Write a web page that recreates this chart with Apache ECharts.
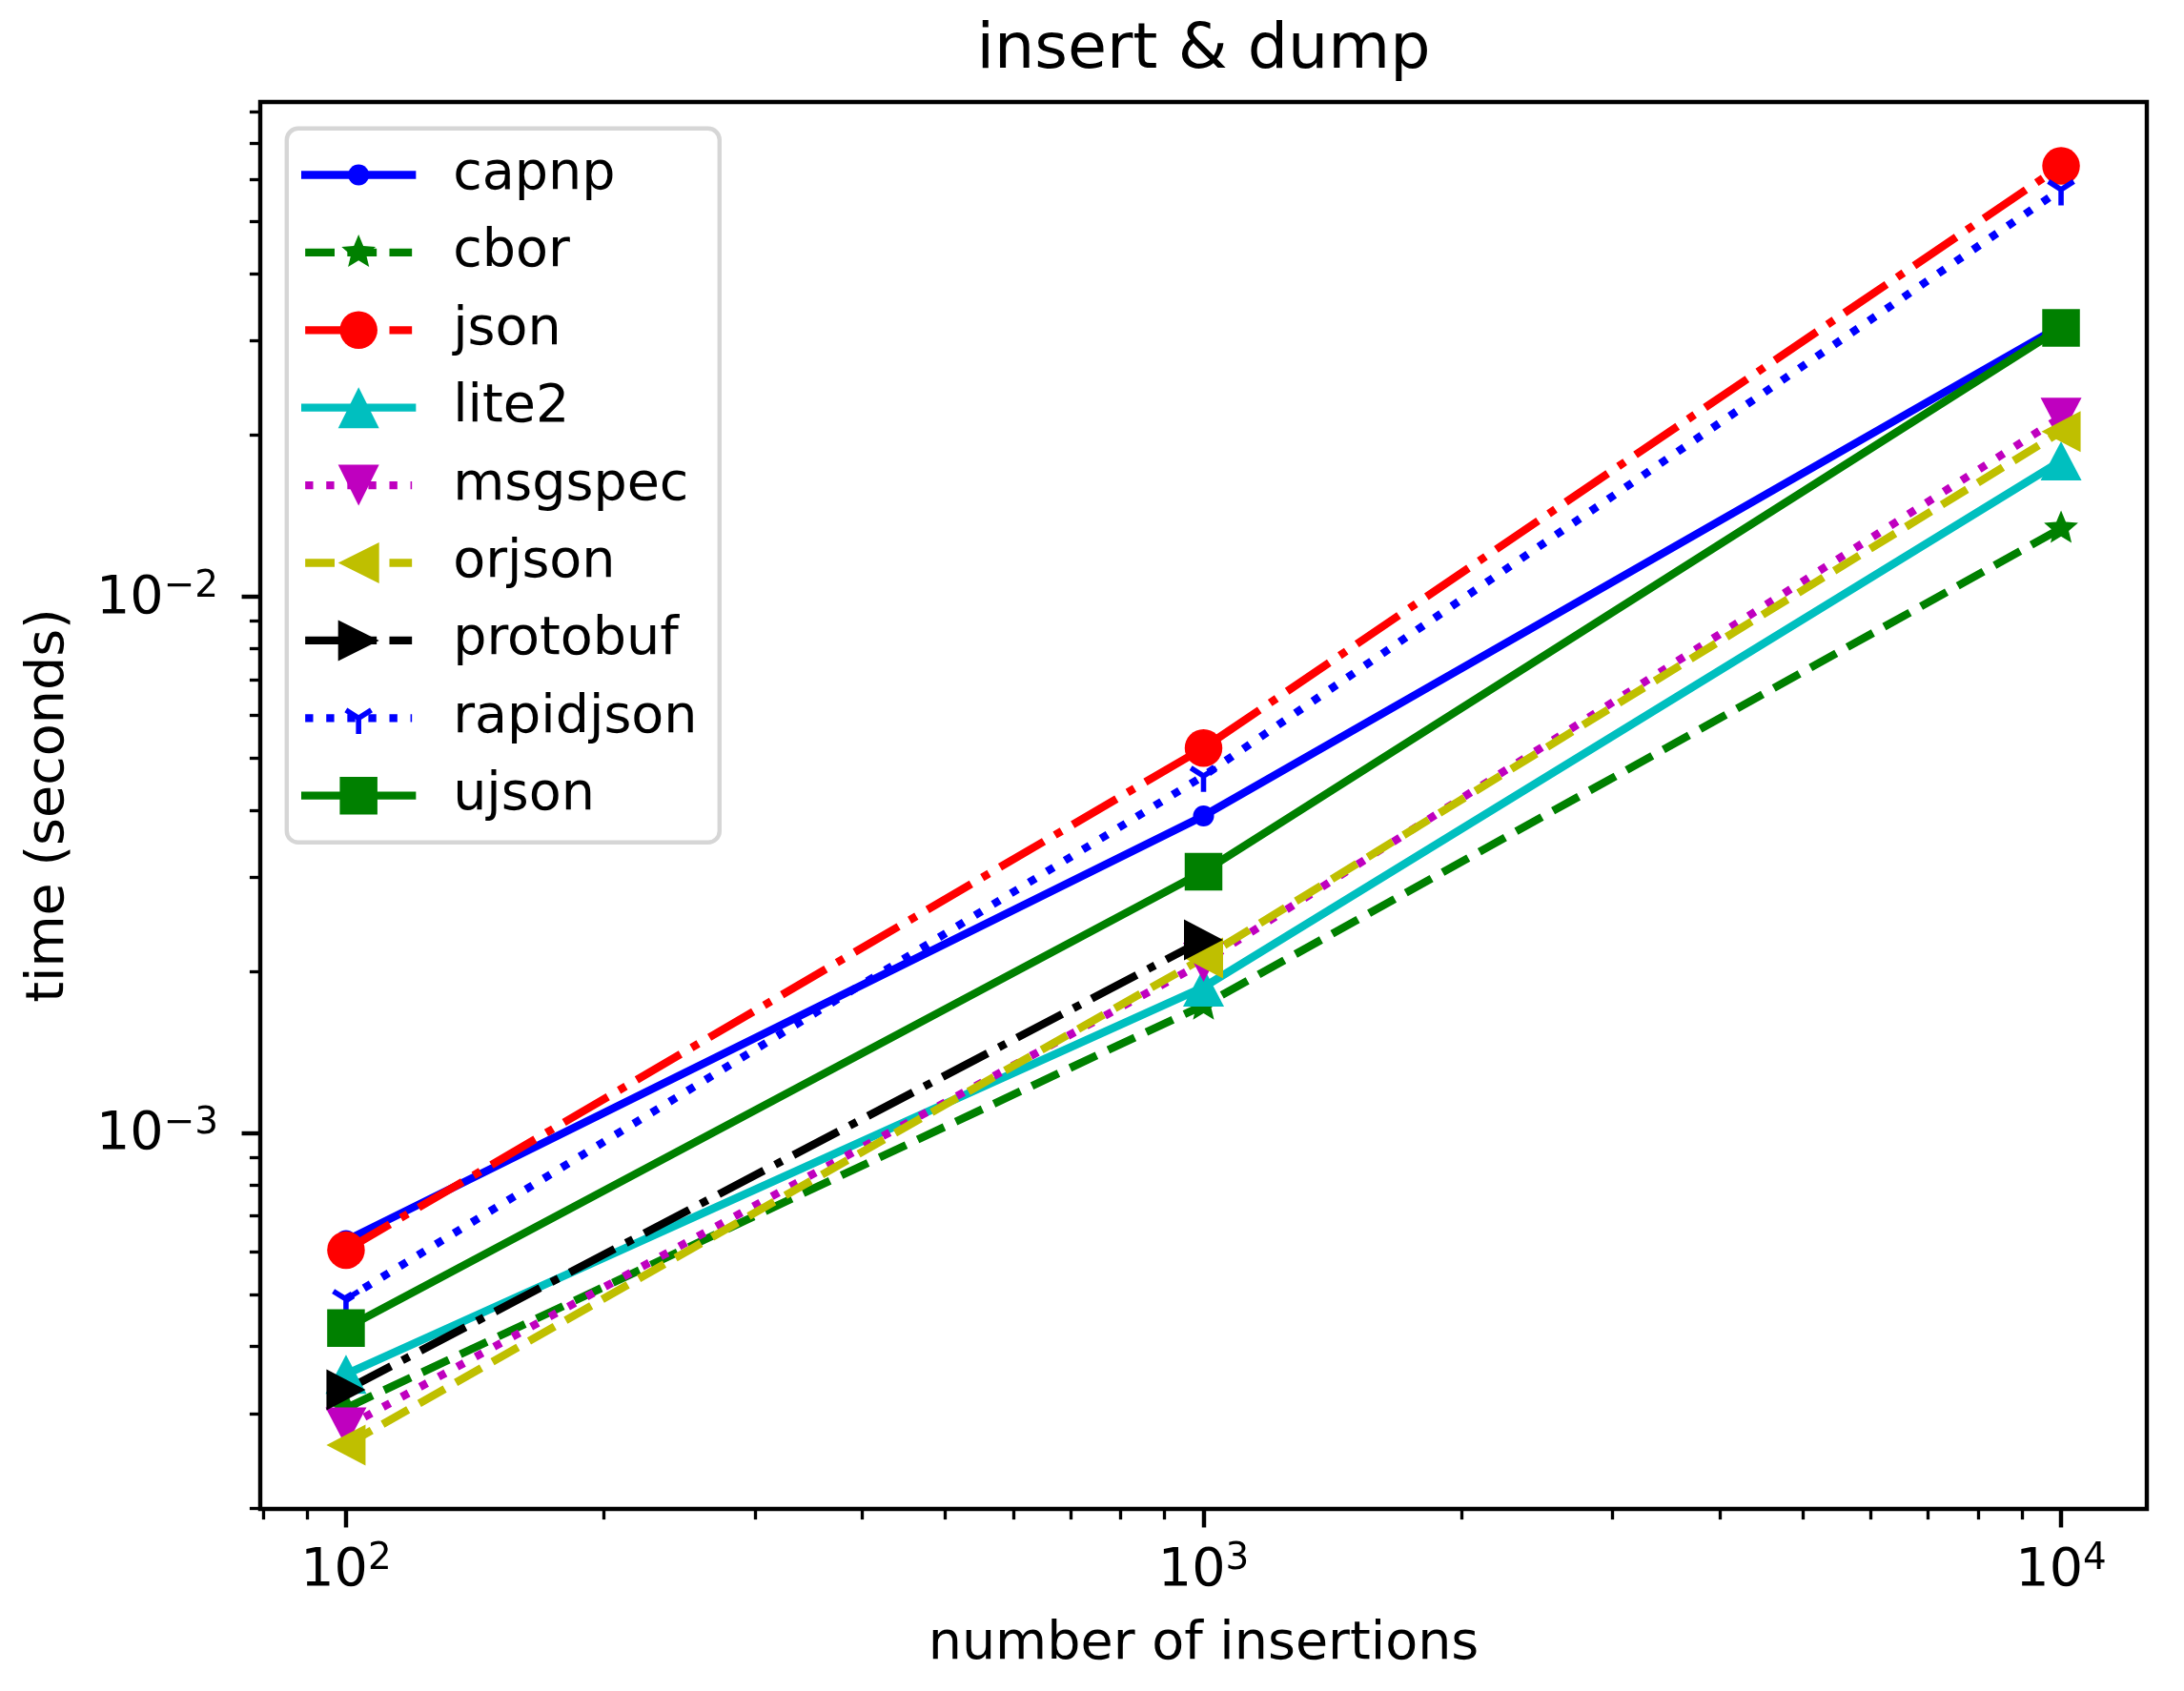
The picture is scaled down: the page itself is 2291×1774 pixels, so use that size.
<!DOCTYPE html>
<html><head><meta charset="utf-8">
<script src="https://cdn.jsdelivr.net/npm/echarts@6/dist/echarts.min.js"></script>
<style>html,body{margin:0;padding:0;background:#fff}#c{width:2291px;height:1774px}</style>
</head><body><div id="c"></div>
<script>
// ---- data (seconds) ----
const insertions = [100, 1000, 10000];
const capnp     = [6.30e-4, 3.90e-3, 3.20e-2];
const cbor      = [3.07e-4, 1.73e-3, 1.34e-2];
const json      = [6.05e-4, 5.22e-3, 6.35e-2];
const lite2     = [3.55e-4, 1.87e-3, 1.79e-2];
const msgspec   = [2.83e-4, 2.08e-3, 2.16e-2];
const orjson    = [2.62e-4, 2.12e-3, 2.03e-2];
const protobuf  = [3.32e-4, 2.29e-3, null];
const rapidjson = [4.90e-4, 4.63e-3, 5.74e-2];
const ujson     = [4.33e-4, 3.07e-3, 3.17e-2];

const xMajorTicks = [100, 1000, 10000];
const xMinorTicks = [80, 90, 200, 300, 400, 500, 600, 700, 800, 900, 2000, 3000, 4000, 5000, 6000, 7000, 8000, 9000];
const yMajorTicks = [0.001, 0.01];
const yMinorTicks = [0.0002, 0.0003, 0.0004, 0.0005, 0.0006, 0.0007, 0.0008, 0.0009,
  0.002, 0.003, 0.004, 0.005, 0.006, 0.007, 0.008, 0.009, 0.02, 0.03, 0.04, 0.05, 0.06, 0.07, 0.08];

const titleText = 'insert & dump';
const xName = 'number of insertions';
const yName = 'time (seconds)';

// ---- styling ----
const F = 'DejaVu Sans';
const PT = 400 / 72;
const LW = 1.5 * PT;
const DASHED = [3.7 * LW, 1.6 * LW];
const DASHDOT = [6.4 * LW, 1.6 * LW, 1.0 * LW, 1.6 * LW];
const DOTTED = [1.0 * LW, 1.65 * LW];

const STAR = 'path://M0 -1L-0.2645 -0.364L-0.9511 -0.309L-0.428 0.139L-0.5878 0.809L0 0.45L0.5878 0.809L0.428 0.139L0.9511 -0.309L0.2645 -0.364ZM-1 -1M1 1';
const TRIDOWN = 'path://M0 0L0 1M0 0L0.8 -0.5M0 0L-0.8 -0.5M-1 -1M1 1';

const allSeries = [
  {name:'capnp', ys:capnp, color:'#0000ff', dash:'solid', symbol:'circle', size:22, rot:0},
  {name:'cbor', ys:cbor, color:'#008000', dash:DASHED, symbol:STAR, size:37.6, rot:0},
  {name:'json', ys:json, color:'#ff0000', dash:DASHDOT, symbol:'circle', size:39.5, rot:0},
  {name:'lite2', ys:lite2, color:'#00bfbf', dash:'solid', symbol:'triangle', size:[43,41], rot:0},
  {name:'msgspec', ys:msgspec, color:'#bf00bf', dash:DOTTED, symbol:'triangle', size:[43,41], rot:180},
  {name:'orjson', ys:orjson, color:'#bfbf00', dash:DASHED, symbol:'triangle', size:[43,41], rot:90},
  {name:'protobuf', ys:protobuf, color:'#000000', dash:DASHDOT, symbol:'triangle', size:[43,41], rot:-90},
  {name:'rapidjson', ys:rapidjson, color:'#0000ff', dash:DOTTED, symbol:TRIDOWN, size:33.3, rot:0, stroke:1.0*PT},
  {name:'ujson', ys:ujson, color:'#008000', dash:'solid', symbol:'rect', size:39.5, rot:0}
];

// axis ranges: 5% margins in log space (matplotlib style)
function logRange(vals) {
  const v = vals.filter(d => d != null && d > 0);
  const a = Math.log10(Math.min(...v)), b = Math.log10(Math.max(...v));
  const m = (b - a) * 0.05;
  return [Math.pow(10, a - m), Math.pow(10, b + m)];
}
const [xMin, xMax] = logRange(insertions);
const [yMin, yMax] = logRange([].concat(...allSeries.map(s => s.ys)));

const GRID = {left: 273, right: 39, top: 107, bottom: 191};

function powLabel(v) {
  const e = Math.round(Math.log10(v));
  const es = e < 0 ? '\u2212' + (-e) : String(e);
  return '{b|10}{s|' + es + '}';
}
const rich = {
  b: {fontFamily: F, fontSize: 10 * PT, lineHeight: 64, color: '#000'},
  s: {fontFamily: F, fontSize: 7 * PT, lineHeight: 31.4, verticalAlign: 'top', color: '#000'}
};

const series = allSeries.map(s => {
  const solid = s.dash === 'solid';
  const item = {color: s.color};
  if (s.stroke) { item.borderColor = s.color; item.borderWidth = s.stroke; }
  return {
    name: s.name, type: 'line',
    xAxisIndex: 0, yAxisIndex: 0,
    data: insertions.map((x, i) => s.ys[i] == null ? null : [x, s.ys[i]]).filter(Boolean),
    symbol: s.symbol, symbolSize: s.size, symbolRotate: s.rot,
    showSymbol: true, showAllSymbol: true,
    lineStyle: {color: s.color, width: LW, type: s.dash, cap: solid ? 'square' : 'butt', join: 'round'},
    itemStyle: item,
    emphasis: {disabled: true},
    animation: false
  };
});

const ROW0 = 183.5, ROWSTEP = 81.4;
const legends = allSeries.map((s, i) => {
  const sz = Array.isArray(s.size) ? Math.max(...s.size) : s.size;
  const solid = s.dash === 'solid';
  return {
    show: true, data: [s.name], orient: 'vertical',
    left: 316, top: ROW0 + i * ROWSTEP - 32, padding: 0,
    itemWidth: 112, itemHeight: sz / 0.8, selectedMode: false,
    lineStyle: {color: s.color, width: LW, type: s.dash, cap: solid ? 'square' : 'butt', opacity: 1},
    itemStyle: {color: s.color, borderColor: s.color, borderWidth: s.stroke || 0, opacity: 1},
    textStyle: {fontFamily: F, fontSize: 10 * PT, color: '#000', lineHeight: 60, padding: [4, 0, 0, 38]},
    z: 6
  };
});

const majorTickStyle = {length: 3.5 * PT, lineStyle: {color: '#000', width: 0.8 * PT}};
const minorTickStyle = {length: 2 * PT, lineStyle: {color: '#000', width: 0.6 * PT}};

const option = {
  backgroundColor: '#ffffff',
  animation: false,
  title: {
    text: titleText, left: 1262.5, top: 20.5, padding: 0, textAlign: 'center',
    textStyle: {fontFamily: F, fontSize: 12 * PT, fontWeight: 'normal', color: '#000', lineHeight: 12 * PT}
  },
  grid: Object.assign({show: true, borderColor: '#000', borderWidth: 0.8 * PT, backgroundColor: 'transparent',
    containLabel: false, outerBoundsMode: 'none'}, GRID),
  legend: legends,
  graphic: [{
    type: 'rect', z: 5,
    shape: {x: 300.8, y: 134.8, width: 454, height: 749, r: 12},
    style: {fill: 'rgba(255,255,255,0.8)', stroke: '#d6d6d6', lineWidth: 0.8 * PT}
  }],
  xAxis: [{
    type: 'log', logBase: 10, min: xMin, max: xMax, position: 'bottom',
    name: xName, nameLocation: 'middle', nameGap: 115, nameMoveOverlap: false,
    nameTextStyle: {fontFamily: F, fontSize: 10 * PT, color: '#000', lineHeight: 10 * PT},
    axisLine: {show: false}, splitLine: {show: false}, minorTick: {show: false},
    axisTick: Object.assign({show: true, inside: false, customValues: xMajorTicks}, majorTickStyle),
    axisLabel: {show: true, customValues: xMajorTicks, margin: 33.5, formatter: powLabel, rich: rich, lineHeight: 64,
      showMinLabel: true, showMaxLabel: true, hideOverlap: false}
  }, {
    type: 'log', logBase: 10, min: xMin, max: xMax, position: 'bottom',
    axisLine: {show: false}, splitLine: {show: false}, axisLabel: {show: false},
    axisTick: Object.assign({show: true, inside: false, customValues: xMinorTicks}, minorTickStyle)
  }],
  yAxis: [{
    type: 'log', logBase: 10, min: yMin, max: yMax, position: 'left',
    name: yName, nameLocation: 'middle', nameGap: 194, nameRotate: 90, nameMoveOverlap: false,
    nameTextStyle: {fontFamily: F, fontSize: 10 * PT, color: '#000', lineHeight: 10 * PT},
    axisLine: {show: false}, splitLine: {show: false}, minorTick: {show: false},
    axisTick: Object.assign({show: true, inside: false, customValues: yMajorTicks}, majorTickStyle),
    axisLabel: {show: true, customValues: yMajorTicks, margin: 44, formatter: powLabel, rich: rich, lineHeight: 64,
      padding: [5, 0, 0, 0], showMinLabel: true, showMaxLabel: true, hideOverlap: false}
  }, {
    type: 'log', logBase: 10, min: yMin, max: yMax, position: 'left',
    axisLine: {show: false}, splitLine: {show: false}, axisLabel: {show: false},
    axisTick: Object.assign({show: true, inside: false, customValues: yMinorTicks}, minorTickStyle)
  }],
  series: series
};

const chart = echarts.init(document.getElementById('c'), null, {renderer: 'canvas'});
chart.setOption(option);
</script>
</body></html>
